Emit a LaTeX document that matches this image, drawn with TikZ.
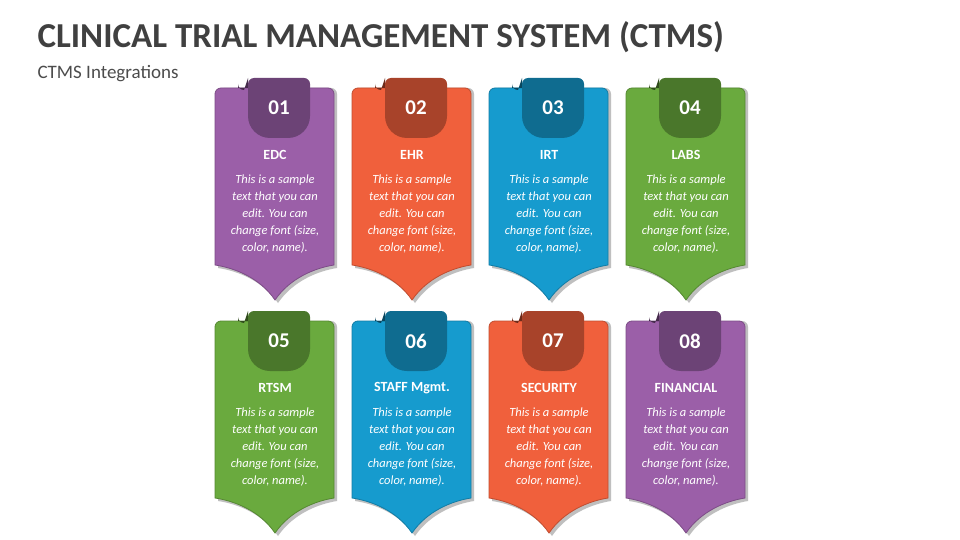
\documentclass[tikz,border=0pt]{standalone}
\usepackage{fontspec}
\setmainfont{Carlito}
\colorlet{cpurple}{rgb,255:red,155;green,95;blue,168}
\colorlet{corange}{rgb,255:red,240;green,96;blue,60}
\colorlet{cblue}{rgb,255:red,22;green,155;blue,206}
\colorlet{cgreen}{rgb,255:red,106;green,170;blue,62}
\tikzset{
  card/.style={fill=#1,draw=#1!80!black,line width=0.8pt},
  tab/.style={fill=#1!70!black},
  fold/.style={fill=#1!45!black},
  num/.style={text=white,font=\bfseries\fontsize{21}{21}\selectfont},
  head/.style={text=white,font=\bfseries\fontsize{14}{14}\selectfont},
  body/.style={text=white,align=center,font=\itshape\fontsize{12.5}{17}\selectfont},
}
\newcommand{\ctmscard}[6]{%
  \begin{scope}[shift={(#1,#2)}]
    \fill[black!25] (3,3) [rounded corners=6pt] -- (3,0) -- (122,0) [sharp corners] -- (122,180)
      .. controls (103,183) and (78,193) .. (63,215) .. controls (48,193) and (23,183) .. (3,180) -- cycle;
    \draw[card=#3] (0,177) [rounded corners=6pt] -- (0,0) -- (119,0) [sharp corners] -- (119,177)
      .. controls (100,180) and (75,190) .. (60,212) .. controls (45,190) and (20,180) .. (0,177) -- cycle;
    \fill[fold=#3] (23,0) -- (23,-4) arc (180:90:6) -- (33,-10) -- (33,0) -- cycle;
    \fill[tab=#3] (33,-10) [rounded corners=6pt] -- (95,-10) [rounded corners=22pt] -- (95,50) -- (33,50) [rounded corners=6pt] -- cycle;
    \node[num] (n#5) at (64,20) {#5};
    \node[head] (h#5) at (60,67) {#6};
    \node[body] (b#5) at (60,126) {This is a sample\\text that you can\\edit. You can\\change font (size,\\color, name).};
  \end{scope}}
\begin{document}
\begin{tikzpicture}[x=1pt,y=-1pt]
  \fill[white] (0,0) rectangle (960,540);
  \useasboundingbox (0,0) rectangle (960,540);
  \node[anchor=west,font=\bfseries\fontsize{35}{35}\selectfont,text=black!75] (title) at (34,37) {CLINICAL TRIAL MANAGEMENT SYSTEM (CTMS)};
  \node[anchor=west,font=\fontsize{19}{19}\selectfont,text=black!70] (sub) at (34,74) {CTMS Integrations};
  % first row
  \ctmscard{215}{88}{cpurple}{}{01}{EDC}
  \ctmscard{352}{88}{corange}{}{02}{EHR}
  \ctmscard{489}{88}{cblue}{}{03}{IRT}
  \ctmscard{626}{88}{cgreen}{}{04}{LABS}
  % second row
  \ctmscard{215}{321}{cgreen}{}{05}{RTSM}
  \ctmscard{352}{321}{cblue}{}{06}{STAFF Mgmt.}
  \ctmscard{489}{321}{corange}{}{07}{SECURITY}
  \ctmscard{626}{321}{cpurple}{}{08}{FINANCIAL}
\end{tikzpicture}
\end{document}
